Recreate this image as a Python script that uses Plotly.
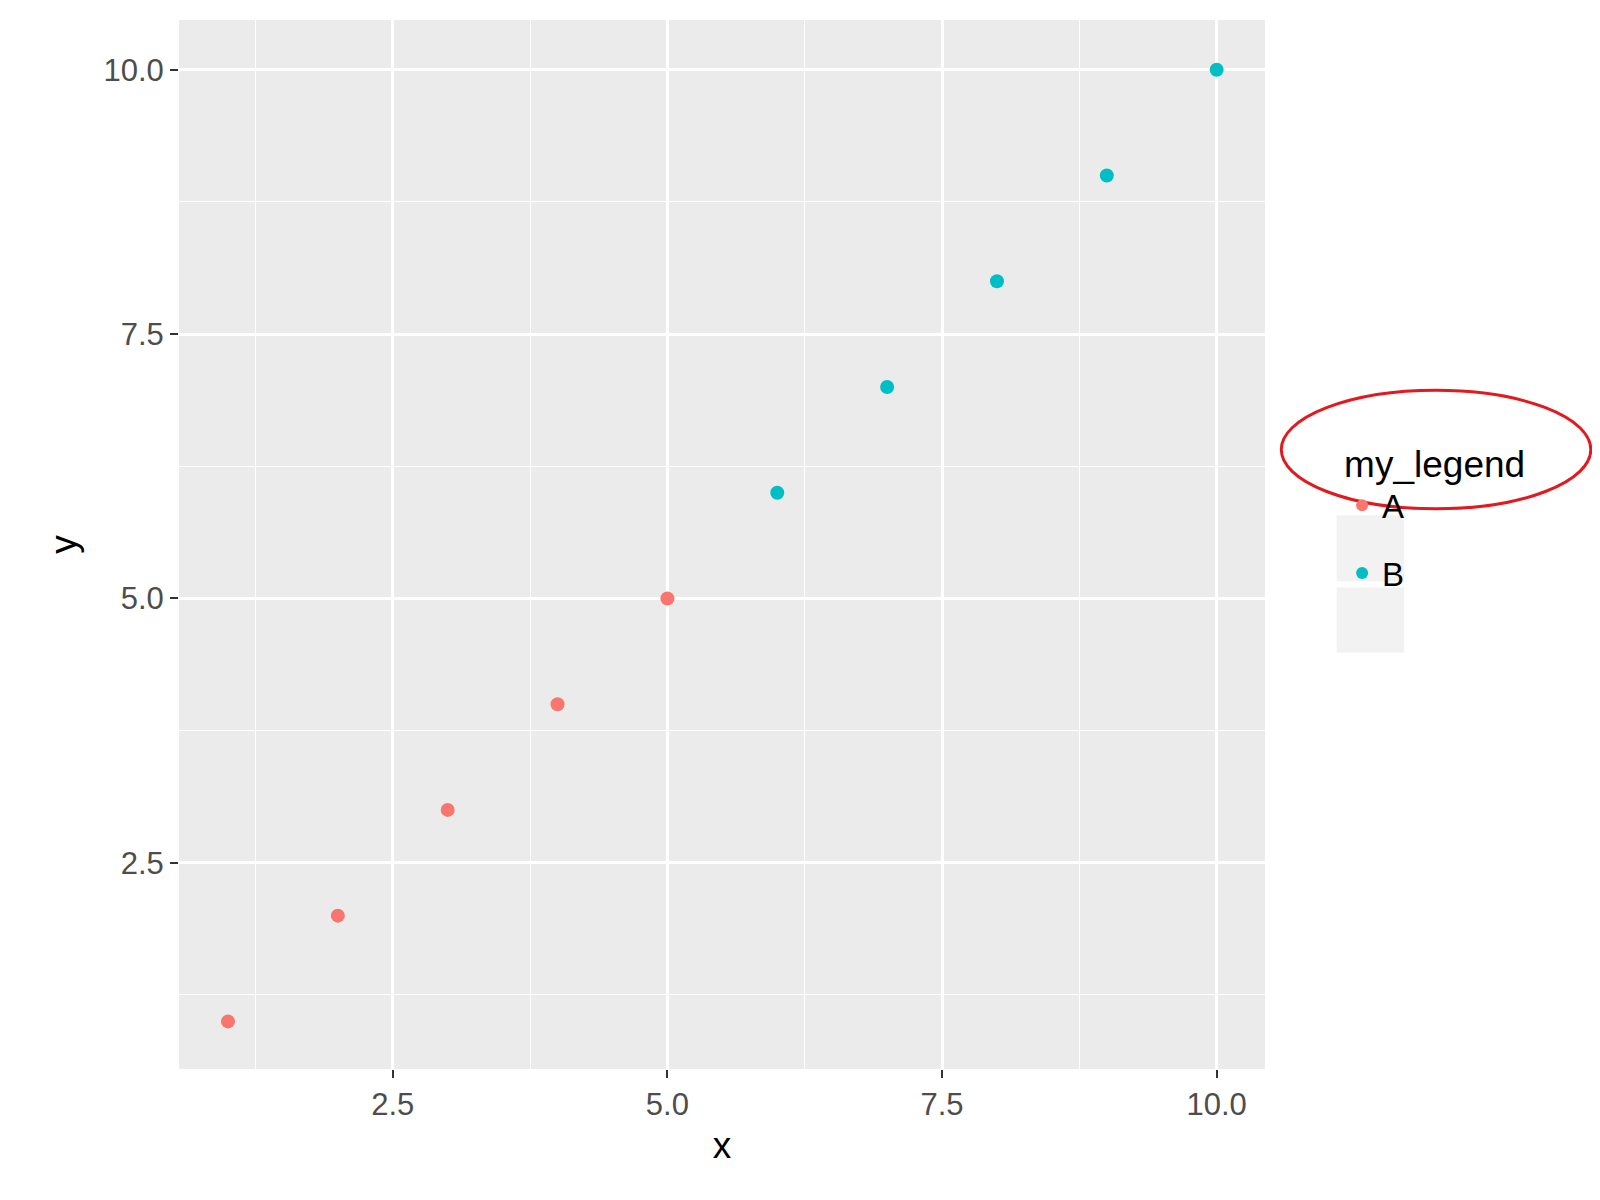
import plotly.graph_objects as go

xa = [1, 2, 3, 4, 5]
ya = [1, 2, 3, 4, 5]
xb = [6, 7, 8, 9, 10]
yb = [6, 7, 8, 9, 10]
ticks = [2.5, 5.0, 7.5, 10.0]
tick_text = ["2.5", "5.0", "7.5", "10.0"]
FONT = "Liberation Sans, Arial"

fig = go.Figure()
fig.add_trace(go.Scatter(x=xa, y=ya, mode="markers", name="A", legendgroup="A",
                         marker=dict(color="#F8766D", size=14)))
fig.add_trace(go.Scatter(x=xb, y=yb, mode="markers", name="B", legendgroup="B",
                         marker=dict(color="#00BFC4", size=14)))

axis_common = dict(
    showgrid=True, gridcolor="white", gridwidth=2.5,
    minor=dict(showgrid=True, gridcolor="white", gridwidth=1.2, dtick=1.25),
    zeroline=False, ticks="outside", ticklen=8, tickwidth=2, tickcolor="#333333",
    tickfont=dict(family=FONT, size=31, color="#4D4D4D"),
    tickvals=ticks, ticktext=tick_text, showline=False,
)
fig.update_xaxes(range=[0.554, 10.44], title=dict(text="x", font=dict(family=FONT, size=37, color="black"), standoff=10), **axis_common)
fig.update_yaxes(range=[0.55, 10.47], title=dict(text="y", font=dict(family=FONT, size=37, color="black"), standoff=15), **axis_common)

# legend key backgrounds
for y0, y1 in [(0.465, 0.528), (0.397, 0.459)]:
    fig.add_shape(type="rect", xref="paper", yref="paper", x0=1.066, x1=1.128,
                  y0=y0, y1=y1, fillcolor="#F2F2F2", line=dict(width=0), layer="below")

fig.add_shape(type="circle", xref="paper", yref="paper",
              x0=1.015, x1=1.30, y0=0.534, y1=0.647,
              line=dict(color="#E3191F", width=3))

fig.update_layout(
    width=1600, height=1200,
    margin=dict(l=171, r=343, t=12, b=139),
    plot_bgcolor="#EBEBEB", paper_bgcolor="white",
    showlegend=True,
    legend=dict(x=1.071, y=0.61, xanchor="left", yanchor="top",
                bgcolor="rgba(0,0,0,0)",
                title=dict(text="my_legend", font=dict(family=FONT, size=37, color="black"), side="top"),
                font=dict(family=FONT, size=33, color="black"),
                itemsizing="constant", tracegroupgap=22),
)
fig.write_html("out.html")
